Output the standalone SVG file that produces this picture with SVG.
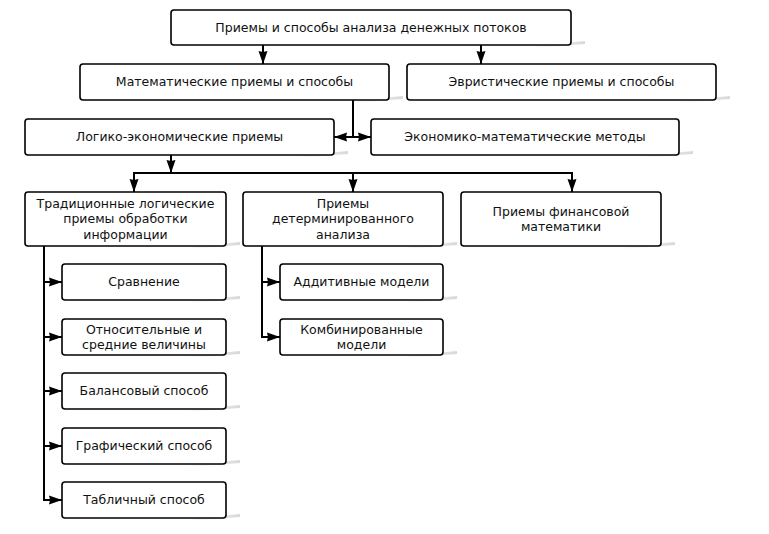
<svg xmlns="http://www.w3.org/2000/svg" width="769" height="534" viewBox="0 0 769 534">
<defs>
<marker id="ah" markerUnits="userSpaceOnUse" markerWidth="13" markerHeight="10" viewBox="0 0 13 10" refX="13" refY="5" orient="auto">
<path d="M0,0.5 L13,5 L0,9.5 L1,5 Z" fill="#000"/>
</marker>
<linearGradient id="sh" x1="0" y1="0" x2="1" y2="0">
<stop offset="0" stop-color="#d8d8d8" stop-opacity="0"/>
<stop offset="1" stop-color="#d8d8d8" stop-opacity="1"/>
</linearGradient>
</defs>
<style>
.b{fill:#fff;stroke:#000;stroke-width:1.6}
.s{fill:url(#sh)}
.t{font-family:"DejaVu Sans",Verdana,sans-serif;font-size:12.5px;fill:#111;text-anchor:middle}
.c{fill:none;stroke:#000;stroke-width:2}
.a{marker-end:url(#ah)}
</style>
<rect width="769" height="534" fill="#fff"/>
<g id="n_top"><polygon class="s" points="531,46 585,41 585,44 531,48"/><rect class="b" x="171" y="10" width="400" height="35" rx="3"/><text class="t" x="371" y="31.5">Приемы и способы анализа денежных потоков</text></g>
<g id="n_math"><polygon class="s" points="349,101 403,96 403,99 349,103"/><rect class="b" x="80" y="64" width="309" height="36" rx="3"/><text class="t" x="234.5" y="86">Математические приемы и способы</text></g>
<g id="n_heur"><polygon class="s" points="676,101 730,96 730,99 676,103"/><rect class="b" x="407" y="64" width="309" height="36" rx="3"/><text class="t" x="561.5" y="86">Эвристические приемы и способы</text></g>
<g id="n_logic"><polygon class="s" points="294,156 348,151 348,154 294,158"/><rect class="b" x="25" y="119" width="309" height="36" rx="3"/><text class="t" x="179.5" y="141">Логико-экономические приемы</text></g>
<g id="n_econ"><polygon class="s" points="639,156 693,151 693,154 639,158"/><rect class="b" x="371" y="119" width="308" height="36" rx="3"/><text class="t" x="525" y="141">Экономико-математические методы</text></g>
<g id="n_trad"><polygon class="s" points="186,247 240,242 240,245 186,249"/><rect class="b" x="25" y="192" width="201" height="54" rx="3"/><text class="t"><tspan x="125.5" y="207.5">Традиционные логические</tspan><tspan x="125.5" y="223">приемы обработки</tspan><tspan x="125.5" y="238.5">информации</tspan></text></g>
<g id="n_det"><polygon class="s" points="403,247 457,242 457,245 403,249"/><rect class="b" x="243" y="192" width="200" height="54" rx="3"/><text class="t"><tspan x="343" y="207.5">Приемы</tspan><tspan x="343" y="223">детерминированного</tspan><tspan x="343" y="238.5">анализа</tspan></text></g>
<g id="n_fin"><polygon class="s" points="621,247 675,242 675,245 621,249"/><rect class="b" x="461" y="192" width="200" height="54" rx="3"/><text class="t"><tspan x="561" y="215.5">Приемы финансовой</tspan><tspan x="561" y="230.5">математики</tspan></text></g>
<g id="n_srav"><polygon class="s" points="186,301 240,296 240,299 186,303"/><rect class="b" x="62" y="264" width="164" height="36" rx="3"/><text class="t" x="144" y="286">Сравнение</text></g>
<g id="n_otn"><polygon class="s" points="186,356 240,351 240,354 186,358"/><rect class="b" x="62" y="319" width="164" height="36" rx="3"/><text class="t"><tspan x="144" y="333.5">Относительные и</tspan><tspan x="144" y="348.5">средние величины</tspan></text></g>
<g id="n_bal"><polygon class="s" points="186,410 240,405 240,408 186,412"/><rect class="b" x="62" y="373" width="164" height="36" rx="3"/><text class="t" x="144" y="395">Балансовый способ</text></g>
<g id="n_graf"><polygon class="s" points="186,465 240,460 240,463 186,467"/><rect class="b" x="62" y="428" width="164" height="36" rx="3"/><text class="t" x="144" y="450">Графический способ</text></g>
<g id="n_tabl"><polygon class="s" points="186,519 240,514 240,517 186,521"/><rect class="b" x="62" y="482" width="164" height="36" rx="3"/><text class="t" x="144" y="504">Табличный способ</text></g>
<g id="n_add"><polygon class="s" points="403,301 457,296 457,299 403,303"/><rect class="b" x="280" y="264" width="163" height="36" rx="3"/><text class="t" x="361.5" y="286">Аддитивные модели</text></g>
<g id="n_komb"><polygon class="s" points="403,356 457,351 457,354 403,358"/><rect class="b" x="280" y="319" width="163" height="36" rx="3"/><text class="t"><tspan x="361.5" y="333.5">Комбинированные</tspan><tspan x="361.5" y="348.5">модели</tspan></text></g>
<g id="connectors">
<path class="c a" d="M263,45 V64"/>
<path class="c a" d="M481,45 V64"/>
<path class="c" d="M353,100 V137"/>
<path class="c a" d="M353,137 H334"/>
<path class="c a" d="M353,137 H371"/>
<path class="c a" d="M171,155 V173"/>
<path class="c" d="M134,173 H572"/>
<path class="c a" d="M134,172 V192"/>
<path class="c a" d="M353,172 V192"/>
<path class="c a" d="M572,172 V192"/>
<path class="c" d="M44,246 V501"/>
<path class="c a" d="M43,282 H62"/>
<path class="c a" d="M43,337 H62"/>
<path class="c a" d="M43,391 H62"/>
<path class="c a" d="M43,446 H62"/>
<path class="c a" d="M43,500 H62"/>
<path class="c" d="M262,246 V338"/>
<path class="c a" d="M261,282 H280"/>
<path class="c a" d="M261,337 H280"/>
</g>
</svg>
